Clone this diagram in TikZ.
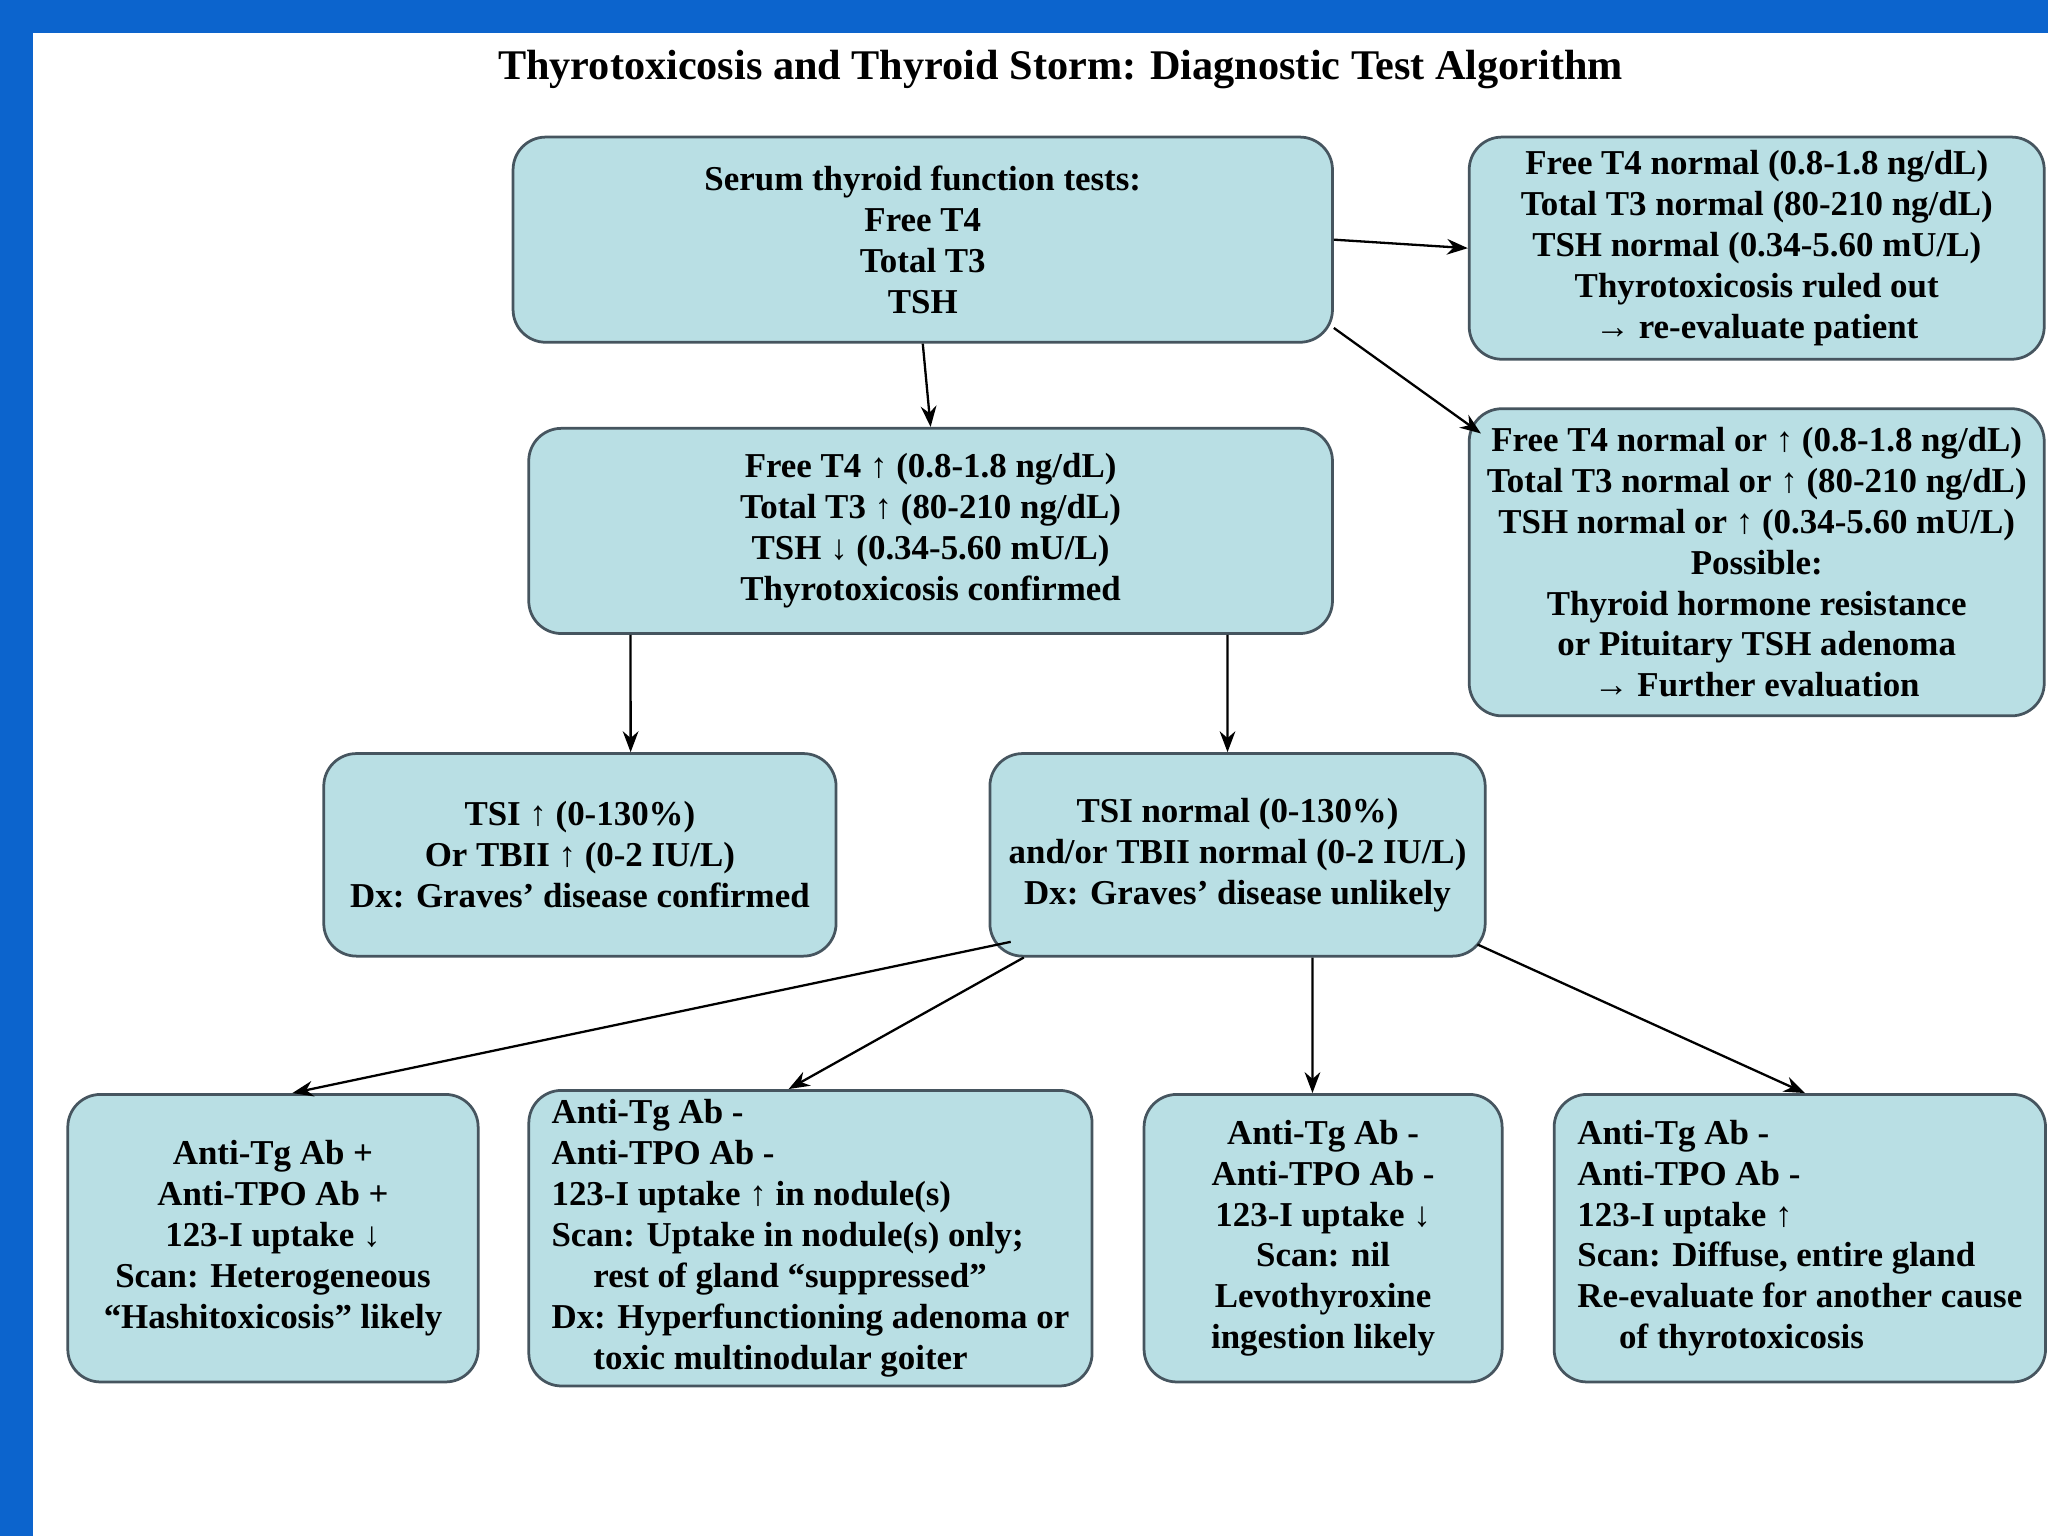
\documentclass[tikz,border=0pt]{standalone}
\usepackage{fontspec}
\setmainfont{Liberation Serif}
\usetikzlibrary{arrows.meta,calc}
\definecolor{bfill}{RGB}{185,223,228}
\definecolor{bline}{RGB}{70,85,95}
\definecolor{frame}{RGB}{12,100,205}
\tikzset{
 box/.style={draw=bline,fill=bfill,rounded corners=0.25cm,line width=0.6pt,align=center,inner sep=2pt,
   font=\bfseries\fontsize{7.6}{8.9}\selectfont},
 conn/.style={-{Stealth[length=1.6mm,width=1.2mm]},line width=0.5pt,black}
}
\begin{document}
\begin{tikzpicture}[x=0.01cm,y=-0.01cm]
\useasboundingbox (0,0) rectangle (1568,1176);
\fill[frame] (0,0) rectangle (1568,1176);
\fill[white] (25,25) rectangle (1568,1176);
\node[font=\bfseries\fontsize{9.2}{11}\selectfont] (title) at (812,53) {Thyrotoxicosis and Thyroid Storm: Diagnostic Test Algorithm};
\node[box,minimum width=6.27cm,minimum height=1.57cm] (b1) at (706.5,183.5) {Serum thyroid function tests:\\Free T4\\Total T3\\TSH};
\node[box,minimum width=4.4cm,minimum height=1.7cm] (r1) at (1345,190) {Free T4 normal (0.8-1.8 ng/dL)\\Total T3 normal (80-210 ng/dL)\\TSH normal (0.34-5.60 mU/L)\\Thyrotoxicosis ruled out\\→ re-evaluate patient};
\node[box,minimum width=4.4cm,minimum height=2.35cm] (r2) at (1345,430.5) {Free T4 normal or ↑ (0.8-1.8 ng/dL)\\Total T3 normal or ↑ (80-210 ng/dL)\\TSH normal or ↑ (0.34-5.60 mU/L)\\Possible:\\Thyroid hormone resistance\\or Pituitary TSH adenoma\\→ Further evaluation};
\node[box,minimum width=6.15cm,minimum height=1.57cm] (b2) at (712.5,406.5) {Free T4 ↑ (0.8-1.8 ng/dL)\\Total T3 ↑ (80-210 ng/dL)\\TSH ↓ (0.34-5.60 mU/L)\\Thyrotoxicosis confirmed};
\node[box,minimum width=3.92cm,minimum height=1.55cm] (c1) at (444,654.5) {TSI ↑ (0-130\%)\\Or TBII ↑ (0-2 IU/L)\\Dx: Graves’ disease confirmed};
\node[box,minimum width=3.79cm,minimum height=1.55cm] (c2) at (947.5,654.5) {TSI normal (0-130\%)\\and/or TBII normal (0-2 IU/L)\\Dx: Graves’ disease unlikely};
\node[box,minimum width=3.14cm,minimum height=2.2cm] (d1) at (209,948) {Anti-Tg Ab +\\Anti-TPO Ab +\\123-I uptake ↓\\Scan: Heterogeneous\\“Hashitoxicosis” likely};
\node[box,minimum width=4.31cm,minimum height=2.2cm,align=left] (d2) at (620.5,948) {Anti-Tg Ab -\\Anti-TPO Ab -\\123-I uptake ↑ in nodule(s)\\Scan: Uptake in nodule(s) only;\\\hspace*{1.2em}rest of gland “suppressed”\\Dx: Hyperfunctioning adenoma or\\\hspace*{1.2em}toxic multinodular goiter};
\node[box,minimum width=2.74cm,minimum height=2.2cm] (d3) at (1013,948) {Anti-Tg Ab -\\Anti-TPO Ab -\\123-I uptake ↓\\Scan: nil\\Levothyroxine\\ingestion likely};
\node[box,minimum width=3.76cm,minimum height=2.2cm,align=left] (d4) at (1378,948) {Anti-Tg Ab -\\Anti-TPO Ab -\\123-I uptake ↑\\Scan: Diffuse, entire gland\\Re-evaluate for another cause\\\hspace*{1.2em}of thyrotoxicosis};
\draw[conn] (b1.south) -- (b2.north);
\draw[conn] (b1.east) -- (r1.west);
\draw[conn] ($(b1.south east)+(0,-12)$) -- ($(r2.north west)+(10,20)$);
\draw[conn] ($(b2.south west)+(79,0)$) -- ($(c1.north west)+(236,0)$);
\draw[conn] ($(b2.south west)+(536,0)$) -- ($(c2.north west)+(183,0)$);
\draw[conn] ($(c2.south west)+(17,-12)$) -- ($(d1.north west)+(173,0)$);
\draw[conn] ($(c2.south west)+(27,0)$) -- ($(d2.north west)+(200,0)$);
\draw[conn] ($(c2.south west)+(248,0)$) -- ($(d3.north west)+(130,0)$);
\draw[conn] ($(c2.south east)+(-7,-10)$) -- ($(d4.north west)+(193,0)$);
\end{tikzpicture}
\end{document}
